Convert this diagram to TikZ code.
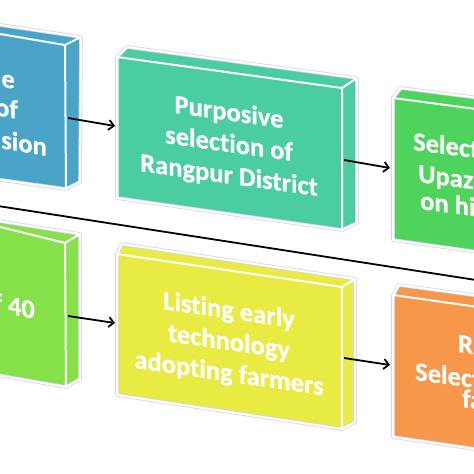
\documentclass[tikz,border=0pt]{standalone}
\usepackage{fontspec}
\setmainfont{Carlito}[Ligatures={NoCommon}, BoldFeatures={FakeBold=0.6}]
\usetikzlibrary{arrows.meta}
\definecolor{cblue}{HTML}{4AA4C8}
\definecolor{cteal}{HTML}{4BCDA2}
\definecolor{cgreen}{HTML}{4ED45C}
\definecolor{clime}{HTML}{86E04A}
\definecolor{cyellow}{HTML}{E9EA42}
\definecolor{corange}{HTML}{F7974A}
\definecolor{cedge}{HTML}{D3D6E8}
% #1 colour, #2 front-top-left, #3 front-top-right, #4 front-bottom-right,
% #5 front-bottom-left, #6 back-top-left, #7 back-top-right, #8 back-bottom-right
\newcommand\myslab[8]{%
  \fill[#1] (#6) -- (#7) -- (#8) -- (#4) -- (#5) -- (#2) -- cycle;
  \draw[slabout] (#6) -- (#7) -- (#8) -- (#4) -- (#5) -- (#2) -- cycle;
  \draw[slabin] (#6) -- (#7) -- (#8) -- (#4) -- (#5) -- (#2) -- cycle;
  \draw[slabin] (#2) -- (#3) -- (#4) (#3) -- (#7);
}
\begin{document}
\begin{tikzpicture}[x=1pt,y=-1pt,
  slabout/.style={draw=cedge, line width=3.6pt, line join=round},
  slabin/.style={draw=white, line width=2pt, line join=round},
  lbl/.style={text=white, font=\bfseries\fontsize{26.5}{31.5}\selectfont, align=center, inner sep=0pt},
  conn/.style={line width=1.8pt, -{Straight Barb[length=5pt,width=10pt]}},
  link/.style={line width=1.8pt}]
\useasboundingbox (0,0) rectangle (474,474);
\clip (0,0) rectangle (474,474);
\fill[white] (0,0) rectangle (474,474);

% long return line
\coordinate (ls) at (-2,206);
\coordinate (le) at (476,280);
\draw[link] (ls) -- (le);

% top row
\myslab{cblue}{-20,30.6}{65,45}{66,189}{-20,177}{-20,22}{81,37}{80,182}
\myslab{cteal}{117,57}{342,88}{342,230}{117,198}{127,47}{357,78}{357,223}
\myslab{cgreen}{393,98}{620,128}{620,272}{393,240}{401,88}{635,118}{635,265}
% bottom row
\myslab{clime}{-20,222}{65,243}{66,387}{-20,372}{-20,218}{80,234}{80,379}
\myslab{cyellow}{117,254}{342,287}{342,429}{117,395}{122,244}{355,279}{355,422}
\myslab{corange}{393,295}{620,327}{620,470}{393,437}{399,285}{635,317}{635,462}

% texts
\node[lbl, yslant=-0.17, anchor=base east] (t1a) at (15,89) {e};
\node[lbl, yslant=-0.17, anchor=base east] (t1b) at (18,119) {of};
\node[lbl, yslant=-0.17, anchor=base east] (t1c) at (47,156) {sion};

\node[lbl, yslant=-0.14] (t2) at (229,145) {Purposive\\selection of\\Rangpur District};

\node[lbl, yslant=-0.13, anchor=base west] (t3a) at (413,150) {Select};
\node[lbl, yslant=-0.13, anchor=base west] (t3b) at (418,182) {Upaz};
\node[lbl, yslant=-0.13, anchor=base west] (t3c) at (420,209) {on hi};

\node[lbl, yslant=-0.2, anchor=base east] (t4) at (35,319) {f 40};

\node[lbl, yslant=-0.145] (t5) at (229,343) {Listing early\\technology\\adopting farmers};

\node[lbl, yslant=-0.13, anchor=base west] (t6a) at (458,352) {R};
\node[lbl, yslant=-0.13, anchor=base west] (t6b) at (415,380) {Select};
\node[lbl, yslant=-0.13, anchor=base west] (t6c) at (462,407) {fa};

% arrows
\coordinate (a1s) at (68,118);  \coordinate (a1e) at (115,126);
\coordinate (a2s) at (344,160); \coordinate (a2e) at (390,168);
\coordinate (a3s) at (68,316);  \coordinate (a3e) at (115,323);
\coordinate (a4s) at (344,358); \coordinate (a4e) at (390,365);
\draw[conn] (a1s) -- (a1e);
\draw[conn] (a2s) -- (a2e);
\draw[conn] (a3s) -- (a3e);
\draw[conn] (a4s) -- (a4e);
\end{tikzpicture}
\end{document}
